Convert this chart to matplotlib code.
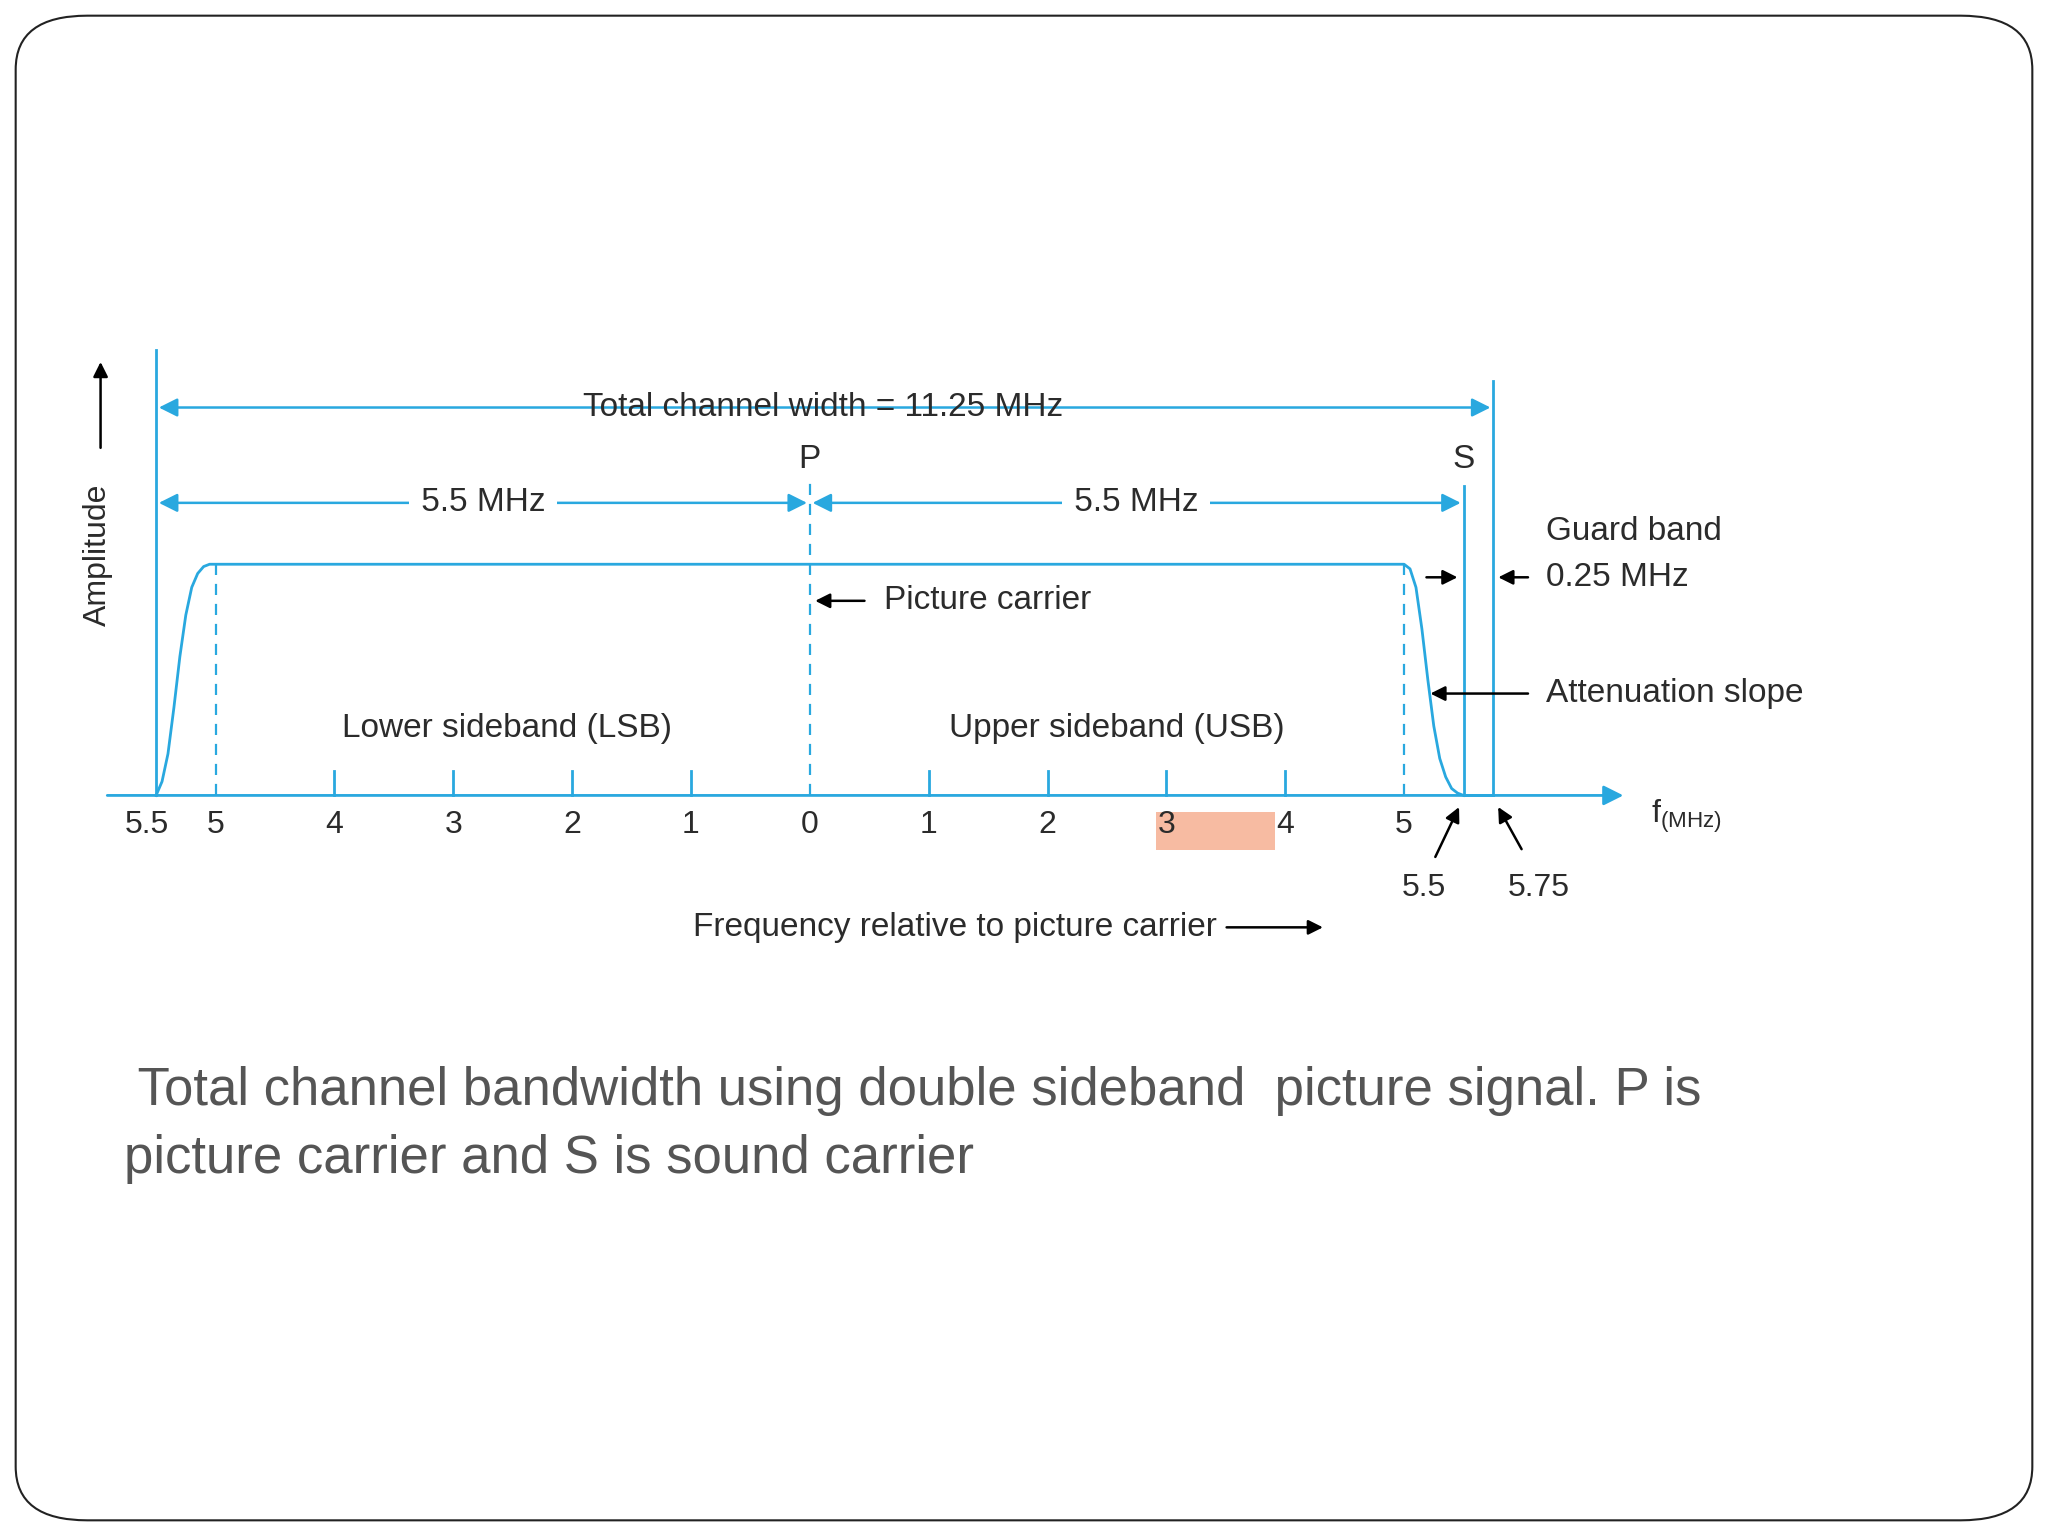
import numpy as np
import matplotlib.pyplot as plt
from matplotlib.patches import FancyBboxPatch, Rectangle

plt.rcParams['font.family'] = ['Liberation Sans', 'DejaVu Sans']

# spectrum shape (MHz, relative amplitude)
edge_f = [-5.5, -5.45, -5.4, -5.35, -5.3, -5.25, -5.2, -5.15, -5.1, -5.05, -5.0]
edge_a = [0.0, 0.06, 0.18, 0.38, 0.6, 0.78, 0.9, 0.96, 0.99, 1.0, 1.0]
fall_f = [5.0, 5.05, 5.1, 5.15, 5.2, 5.25, 5.3, 5.35, 5.4, 5.45, 5.5]
fall_a = [1.0, 0.98, 0.9, 0.72, 0.5, 0.3, 0.16, 0.08, 0.03, 0.01, 0.0]
tick_vals = [-4, -3, -2, -1, 1, 2, 3, 4]
tick_pos = [-5.5, -5, -4, -3, -2, -1, 0, 1, 2, 3, 4, 5]
tick_labels = ['5.5', '5', '4', '3', '2', '1', '0', '1', '2', '3', '4', '5']

BLUE = '#29a8df'
TXT = '#2b2b2b'
FS = 24
W, H = 1568, 1176  # layout grid
PPM, X0, Y0, AH = 91.0, 620.0, 609.0, 177.0


def px(x, y):
    return (x - X0) / PPM, (Y0 - y) / AH


fig = plt.figure(figsize=(20.48, 15.36), dpi=100)
ax = fig.add_axes([0, 0, 1, 1])
ax.set_xlim(px(0, 0)[0], px(W, 0)[0])
ax.set_ylim(px(0, H)[1], px(0, 0)[1])
ax.axis('off')

fig.patches.append(FancyBboxPatch((12 / W, 12 / H), 1 - 24 / W, 1 - 24 / H,
                                  boxstyle='round,pad=0,rounding_size=0.035',
                                  transform=fig.transFigure, fc='none', ec='#222', lw=1.5,
                                  zorder=5))

# spectrum
f = edge_f + fall_f
a = edge_a + fall_a
ax.plot(f, a, color=BLUE, lw=2)

ax.plot([5.5, 5.75], [0, 0], color=BLUE, lw=2)
# baseline + axis arrow
ax.annotate('', xy=(px(1245, 0)[0], 0), xytext=(px(80, 0)[0], 0),
            arrowprops=dict(arrowstyle='-|>', color=BLUE, lw=2, mutation_scale=30))
for t in tick_vals:
    ax.plot([t, t], [0, 0.105], color=BLUE, lw=2)
for t, l in zip(tick_pos, tick_labels):
    xx = t - 0.08 if l == '5.5' else t
    ax.text(xx, px(0, 632)[1], l, ha='center', va='center', fontsize=FS - 1, color=TXT)

# dashed carriers
for t, top in [(-5, 1.0), (0, px(0, 368)[1]), (5, 1.0)]:
    ax.plot([t, t], [0, top], color=BLUE, lw=1.6, ls=(0, (5, 4)))

# vertical solid lines
ax.plot([-5.5, -5.5], [0, px(0, 268)[1]], color=BLUE, lw=2)
ax.plot([5.75, 5.75], [0, px(0, 292)[1]], color=BLUE, lw=2)
ax.plot([5.5, 5.5], [0, px(0, 372)[1]], color=BLUE, lw=2)

arr = dict(arrowstyle='<|-|>', color=BLUE, lw=1.8, mutation_scale=28)
yt = px(0, 312)[1]
ax.annotate('', xy=(-5.5, yt), xytext=(5.75, yt), arrowprops=arr)
ax.text(px(630, 0)[0], yt, 'Total channel width = 11.25 MHz', ha='center', va='center',
        fontsize=FS, color=TXT)
ym = px(0, 385)[1]
ax.annotate('', xy=(-5.5, ym), xytext=(0, ym), arrowprops=arr)
ax.annotate('', xy=(0, ym), xytext=(5.5, ym), arrowprops=arr)
for cx in (370, 870):
    ax.text(px(cx, 0)[0], ym, ' 5.5 MHz ', ha='center', va='center', fontsize=FS,
            color=TXT, bbox=dict(fc='white', ec='none', pad=2))

ax.text(0, px(0, 352)[1], 'P', ha='center', va='center', fontsize=FS, color=TXT)
ax.text(5.5, px(0, 352)[1], 'S', ha='center', va='center', fontsize=FS, color=TXT)

blk = dict(arrowstyle='-|>', color='black', lw=1.8, mutation_scale=22)
ax.annotate('', xy=px(622, 460), xytext=px(664, 460), arrowprops=blk)
ax.text(*px(677, 460), 'Picture carrier', ha='left', va='center', fontsize=FS, color=TXT)
ax.annotate('', xy=px(1118, 442), xytext=px(1090, 442), arrowprops=blk)
ax.annotate('', xy=px(1145, 442), xytext=px(1172, 442), arrowprops=blk)
ax.text(*px(1184, 407), 'Guard band', ha='left', va='center', fontsize=FS, color=TXT)
ax.text(*px(1184, 442), '0.25 MHz', ha='left', va='center', fontsize=FS, color=TXT)
ax.annotate('', xy=px(1093, 531), xytext=px(1172, 531), arrowprops=blk)
ax.text(*px(1184, 531), 'Attenuation slope', ha='left', va='center', fontsize=FS, color=TXT)
ax.text(*px(388, 558), 'Lower sideband (LSB)', ha='center', va='center', fontsize=FS, color=TXT)
ax.text(*px(855, 558), 'Upper sideband (USB)', ha='center', va='center', fontsize=FS, color=TXT)

ax.annotate('', xy=px(1118, 616), xytext=px(1098, 658), arrowprops=blk)
ax.annotate('', xy=px(1146, 616), xytext=px(1166, 652), arrowprops=blk)
ax.text(*px(1090, 680), '5.5', ha='center', va='center', fontsize=FS - 1, color=TXT)
ax.text(*px(1178, 680), '5.75', ha='center', va='center', fontsize=FS - 1, color=TXT)
ax.text(*px(1264, 625), r'f$_{\mathregular{(MHz)}}$', ha='left', va='center', fontsize=FS - 1, color=TXT)

ax.text(*px(932, 710), 'Frequency relative to picture carrier', ha='right', va='center',
        fontsize=FS, color=TXT)
ax.annotate('', xy=px(1015, 710), xytext=px(937, 710), arrowprops=blk)

# amplitude axis
ax.annotate('', xy=px(77, 275), xytext=px(77, 345), arrowprops=blk)
ax.text(*px(75, 425), 'Amplitude', rotation=90, ha='center', va='center', fontsize=FS - 1, color=TXT)

ax.add_patch(Rectangle(px(885, 651), 91 / PPM, 29 / AH, fc='#f7bba2', ec='none', zorder=0))

fig.text(95 / W, 1 - 835 / H, ' Total channel bandwidth using double sideband  picture signal. P is',
         fontsize=38, color='#555', va='center')
fig.text(95 / W, 1 - 887 / H, 'picture carrier and S is sound carrier',
         fontsize=38, color='#555', va='center')

fig.savefig('out.png', dpi=100)
